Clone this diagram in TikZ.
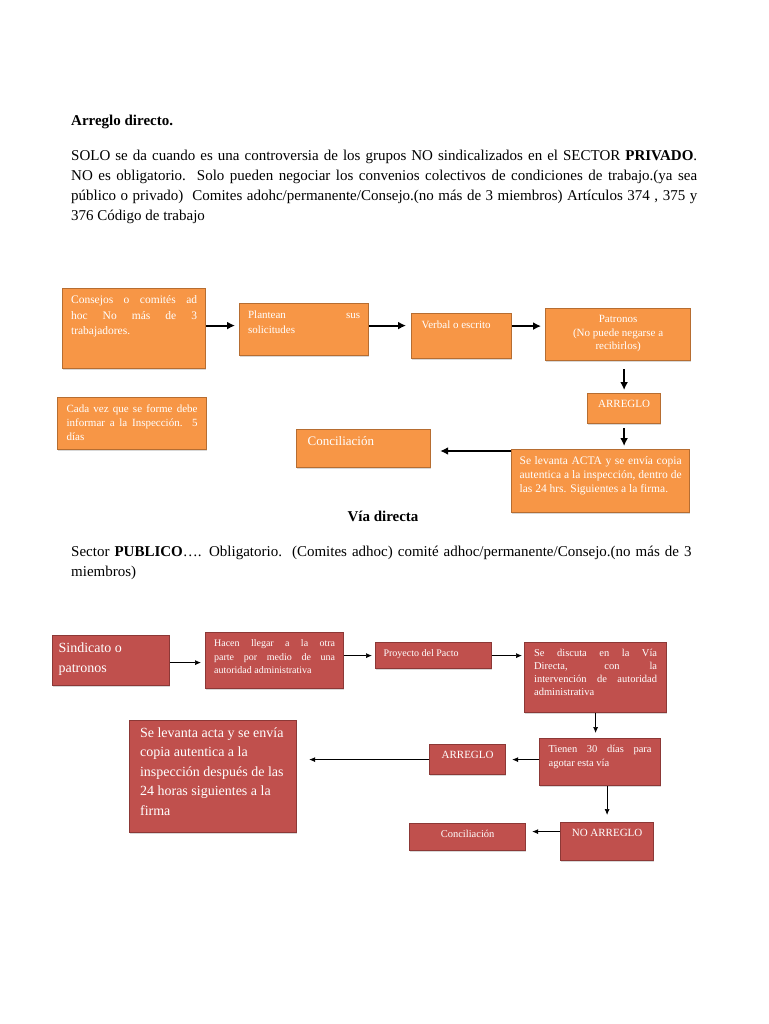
\documentclass[tikz,border=0pt]{standalone}
\usepackage{fontspec}
\setmainfont{Liberation Serif}
\usetikzlibrary{arrows.meta,shadows}
\definecolor{ofill}{HTML}{F79646}
\definecolor{oline}{HTML}{B66D31}
\definecolor{rfill}{HTML}{C0504D}
\definecolor{rline}{HTML}{8C3836}
\hyphenpenalty=10000 \exhyphenpenalty=10000 \tolerance=10000 \hbadness=10000 \hfuzz=20pt
\newcommand{\bt}[3]{\parbox[c][#2][t]{#1}{#3}}
\begin{document}
\begin{tikzpicture}[x=1pt,y=-1pt,
 basebox/.style={line width=1.2pt, inner sep=0pt, anchor=north west, text=white,
   drop shadow={shadow xshift=0.8pt,shadow yshift=-1.5pt,opacity=0.3}},
 obox/.style={basebox, draw=oline, fill=ofill},
 rbox/.style={basebox, draw=rline, fill=rfill},
 tarrow/.style={-{Latex[length=8pt,width=8pt]}, line width=1.8pt},
 sarrow/.style={-{Latex[length=6pt,width=5pt]}, line width=0.7pt},
 body/.style={font=\fontsize{15}{20}\selectfont, inner sep=0pt}
]
\useasboundingbox[fill=white] (0,0) rectangle (768,1024);

% ---- header text
\node[body, font=\fontsize{15}{20}\selectfont\bfseries, anchor=base west] (t1) at (71,126) {Arreglo directo.};
\node[body, text width=626pt, align=justify, anchor=base west] (t2) at (71,161)
 {SOLO se da cuando es una controversia de los grupos NO sindicalizados en el SECTOR \textbf{PRIVADO}.\linebreak
  NO es obligatorio.\ \ Solo pueden negociar los convenios colectivos de condiciones de trabajo.(ya sea\linebreak
  público o privado)\ \ Comites adohc/permanente/Consejo.(no más de 3 miembros) Artículos 374 , 375 y\linebreak
  376 Código de trabajo};

% ---- orange boxes
\node[obox, minimum width=143pt, minimum height=80pt, font=\fontsize{11.5}{15.5}\selectfont] (c1) at (62,288)
 {\bt{126pt}{66pt}{Consejos o comités ad\linebreak hoc No más de 3\linebreak trabajadores.}};
\node[obox, minimum width=129pt, minimum height=52pt, font=\fontsize{11}{15}\selectfont] (c2) at (239,303)
 {\bt{112pt}{38pt}{Plantean sus\linebreak solicitudes}};
\node[obox, minimum width=100pt, minimum height=45pt, font=\fontsize{11}{14}\selectfont] (c3) at (411,313)
 {\bt{80pt}{31pt}{Verbal o escrito}};
\node[obox, minimum width=145pt, minimum height=52pt, font=\fontsize{11}{13.5}\selectfont] (c4) at (545,308)
 {\bt{125pt}{38pt}{\centering Patronos\\(No puede negarse a\\recibirlos)}};
\node[obox, minimum width=149pt, minimum height=52pt, font=\fontsize{11}{14}\selectfont] (c5) at (57,397)
 {\bt{131pt}{38pt}{Cada vez que se forme debe\linebreak informar a la Inspección. 5\linebreak días}};
\node[obox, minimum width=73pt, minimum height=30pt, font=\fontsize{11}{14}\selectfont] (c6) at (587,393)
 {\bt{60pt}{16pt}{\centering ARREGLO}};
\node[obox, minimum width=134pt, minimum height=38pt, font=\fontsize{13}{16}\selectfont] (c7) at (296,429)
 {\bt{112pt}{24pt}{Conciliación}};
\node[obox, minimum width=178pt, minimum height=63pt, font=\fontsize{11.5}{14}\selectfont] (c8) at (511,449)
 {\bt{162pt}{49pt}{Se levanta ACTA y se envía copia\linebreak autentica a la inspección, dentro de\linebreak las 24 hrs. Siguientes a la firma.}};

% ---- orange arrows
\draw[tarrow, shorten >=4pt] ([yshift=3pt]c1.east) -- ([yshift=3pt]c1.east -| c2.west);
\draw[tarrow, shorten >=5pt] ([yshift=4pt]c2.east) -- ([yshift=4pt]c2.east -| c3.west);
\draw[tarrow, shorten >=4pt] ([yshift=10pt]c3.east) -- ([yshift=10pt]c3.east -| c4.west);
\draw[tarrow, shorten <=8pt, shorten >=3pt] (c6.north |- c4.south) -- (c6.north);
\draw[tarrow, shorten <=4pt, shorten >=3pt] (c6.south) -- (c6.south |- c8.north);
\draw[tarrow, shorten >=9pt] ([yshift=-2pt]c8.north west) -- ([yshift=-2pt]c8.north west -| c7.east);

% ---- middle text
\node[body, font=\fontsize{15}{20}\selectfont\bfseries, anchor=base] (t3) at (383,521) {Vía directa};
\node[body, text width=660pt, anchor=base west] (t4) at (71,556)
 {\raggedright Sector \textbf{PUBLICO}…. Obligatorio.\ \ (Comites adhoc) comité adhoc/permanente/Consejo.(no más de 3\\miembros)};

% ---- red boxes
\node[rbox, minimum width=117pt, minimum height=50pt, font=\fontsize{14}{20}\selectfont] (r1) at (52,635)
 {\bt{105pt}{36pt}{\raggedright Sindicato o\\patronos}};
\node[rbox, minimum width=138pt, minimum height=56pt, font=\fontsize{10}{13.5}\selectfont] (r2) at (205,632)
 {\bt{121pt}{42pt}{Hacen llegar a la otra\linebreak parte por medio de una\linebreak autoridad administrativa}};
\node[rbox, minimum width=116pt, minimum height=26pt, font=\fontsize{10}{13}\selectfont] (r3) at (375,642)
 {\bt{100pt}{12pt}{Proyecto del Pacto}};
\node[rbox, minimum width=142pt, minimum height=70pt, font=\fontsize{10.5}{13}\selectfont] (r4) at (524,642)
 {\bt{123pt}{56pt}{Se discuta en la Vía\linebreak Directa, con la\linebreak intervención de autoridad\linebreak administrativa}};
\node[rbox, minimum width=121pt, minimum height=47pt, font=\fontsize{10.5}{14}\selectfont] (r5) at (539,738)
 {\bt{103pt}{33pt}{Tienen 30 días para\linebreak agotar esta vía}};
\node[rbox, minimum width=76pt, minimum height=30pt, font=\fontsize{11}{14}\selectfont] (r6) at (429,744)
 {\bt{64pt}{16pt}{\centering ARREGLO}};
\node[rbox, minimum width=167pt, minimum height=112pt, font=\fontsize{14}{19.5}\selectfont] (r7) at (129,720)
 {\bt{146pt}{98pt}{\raggedright Se levanta acta y se envía\\copia autentica a la\\inspección después de las\\24 horas siguientes a la\\firma}};
\node[rbox, minimum width=116pt, minimum height=27pt, font=\fontsize{10.5}{13}\selectfont] (r8) at (409,823)
 {\bt{100pt}{13pt}{\centering Conciliación}};
\node[rbox, minimum width=93pt, minimum height=38pt, font=\fontsize{11}{14}\selectfont] (r9) at (560,822)
 {\bt{84pt}{24pt}{\centering NO ARREGLO}};

% ---- red arrows
\draw[sarrow, shorten >=4pt] ([yshift=-2pt]r1.east) -- ([yshift=-2pt]r1.east -| r2.west);
\draw[sarrow, shorten >=3pt] (r2.east |- r3.west) -- (r3.west);
\draw[sarrow, shorten >=2pt] (r3.east) -- (r3.east -| r4.west);
\draw[sarrow, shorten >=5pt] (r4.south) -- (r4.south |- r5.north);
\draw[sarrow, shorten >=6pt] (r5.west |- r6.east) -- (r6.east);
\draw[sarrow, shorten >=12pt] (r6.west) -- (r6.west -| r7.east);
\draw[sarrow, shorten >=7pt] (r9.north |- r5.south) -- (r9.north);
\draw[sarrow, shorten >=6pt] ([yshift=10pt]r9.west) -- ([yshift=10pt]r9.west -| r8.east);
\end{tikzpicture}
\end{document}
